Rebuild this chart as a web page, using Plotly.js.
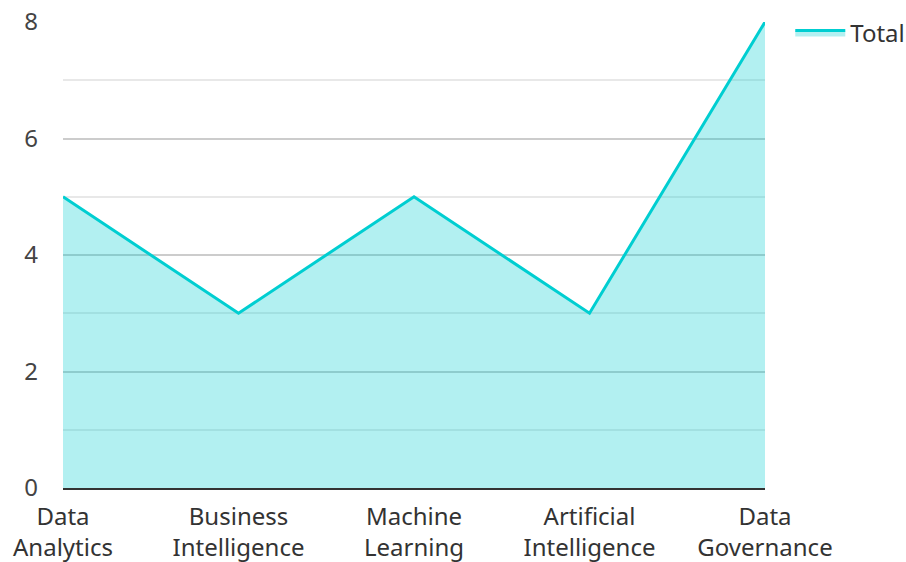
<!DOCTYPE html>
<html>
<head>
<meta charset="utf-8">
<script src="https://cdn.plot.ly/plotly-3.0.1.min.js"></script>
<style>html,body{margin:0;padding:0;background:#fff;}#chart{width:906px;height:562px;}</style>
</head>
<body>
<div id="chart"></div>
<script>
const categories = ["Data<br>Analytics", "Business<br>Intelligence", "Machine<br>Learning", "Artificial<br>Intelligence", "Data<br>Governance"];
const totalValues = [5, 3, 5, 3, 8];
const seriesName = "Total";

const trace = {
  x: categories,
  y: totalValues,
  name: seriesName,
  type: "scatter",
  mode: "lines",
  fill: "tozeroy",
  fillcolor: "rgba(0,206,209,0.3)",
  line: {color: "#00CED1", width: 3},
  hoverinfo: "x+y"
};

const layout = {
  width: 906,
  height: 562,
  margin: {l: 63, r: 141, t: 22, b: 74, autoexpand: false},
  paper_bgcolor: "#fff",
  plot_bgcolor: "#fff",
  font: {family: "Noto Sans, Open Sans, sans-serif", size: 24, color: "#333"},
  showlegend: true,
  legend: {x: 1.036, y: 1.025, xanchor: "left", yanchor: "top", itemwidth: 50, font: {size: 24, color: "#333"}, bgcolor: "rgba(0,0,0,0)"},
  xaxis: {
    type: "category",
    range: [0, 4],
    showgrid: false,
    showline: true,
    linecolor: "#333",
    linewidth: 2,
    ticks: "",
    ticklabelstandoff: 6,
    tickfont: {size: 24, color: "#333"},
    zeroline: false
  },
  yaxis: {
    range: [0, 8],
    dtick: 2,
    showgrid: true,
    gridcolor: "#cccccc",
    gridwidth: 2,
    minor: {dtick: 1, showgrid: true, gridcolor: "#e8e8e8", gridwidth: 2},
    zeroline: false,
    showline: false,
    ticks: "",
    ticklabelstandoff: 24,
    tickfont: {size: 24, color: "#444"}
  }
};

Plotly.newPlot("chart", [trace], layout, {displayModeBar: false, staticPlot: true});
</script>
</body>
</html>
